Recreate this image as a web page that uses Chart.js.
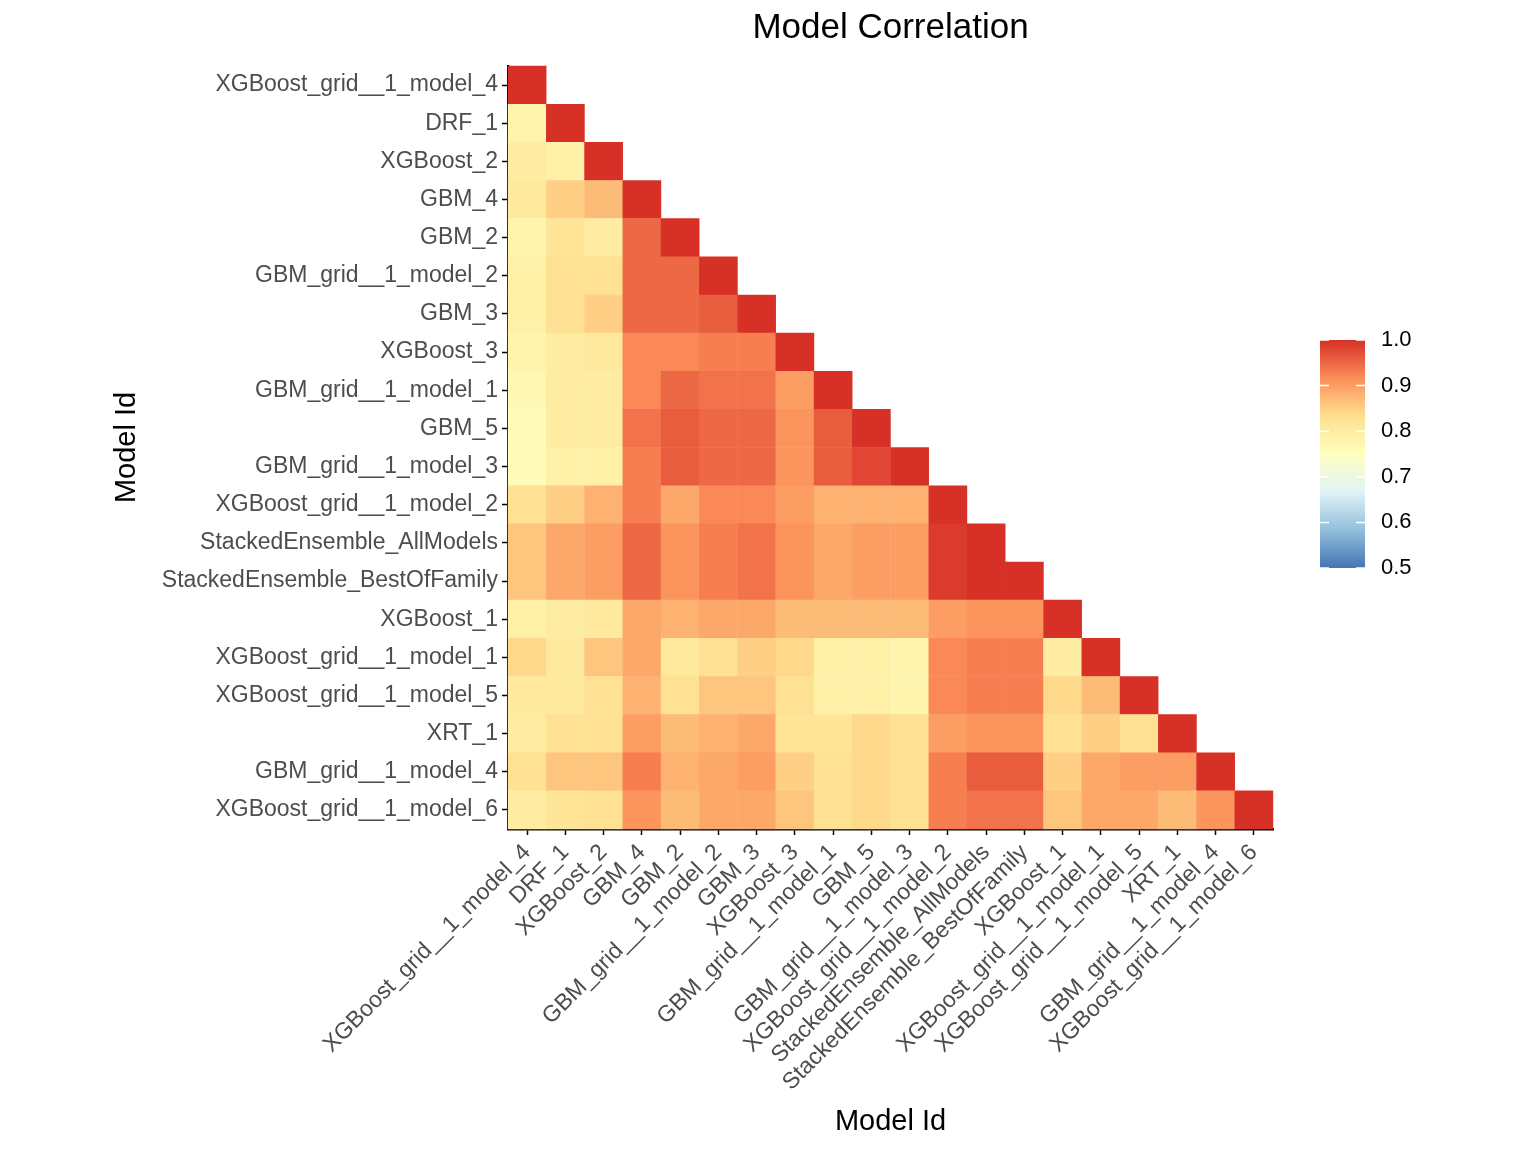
<!DOCTYPE html>
<html>
<head>
<meta charset="utf-8">
<script src="https://cdn.jsdelivr.net/npm/chart.js@4"></script>
<style>
  body { margin: 0; background: #fff; }
  #wrap { width: 1536px; height: 1152px; }
</style>
</head>
<body>
<div id="wrap"><canvas id="grafico"></canvas></div>
<script>
const modelos = ["XGBoost_grid__1_model_4", "DRF_1", "XGBoost_2", "GBM_4", "GBM_2",
  "GBM_grid__1_model_2", "GBM_3", "XGBoost_3", "GBM_grid__1_model_1", "GBM_5",
  "GBM_grid__1_model_3", "XGBoost_grid__1_model_2", "StackedEnsemble_AllModels",
  "StackedEnsemble_BestOfFamily", "XGBoost_1", "XGBoost_grid__1_model_1",
  "XGBoost_grid__1_model_5", "XRT_1", "GBM_grid__1_model_4", "XGBoost_grid__1_model_6"];

// lower triangle, row i has i values (diagonal = 1)
const correlacoes = [
  [],
  [0.78],
  [0.80, 0.79],
  [0.81, 0.85, 0.87],
  [0.78, 0.82, 0.80, 0.95],
  [0.79, 0.83, 0.83, 0.95, 0.95],
  [0.79, 0.83, 0.85, 0.95, 0.95, 0.96],
  [0.78, 0.80, 0.81, 0.92, 0.92, 0.93, 0.93],
  [0.77, 0.80, 0.80, 0.92, 0.95, 0.94, 0.94, 0.90],
  [0.76, 0.80, 0.80, 0.94, 0.96, 0.95, 0.95, 0.91, 0.96],
  [0.76, 0.79, 0.79, 0.93, 0.96, 0.95, 0.95, 0.91, 0.96, 0.98],
  [0.83, 0.85, 0.88, 0.93, 0.89, 0.92, 0.92, 0.90, 0.88, 0.88, 0.88],
  [0.86, 0.89, 0.90, 0.95, 0.91, 0.93, 0.94, 0.91, 0.89, 0.90, 0.90, 0.99],
  [0.86, 0.89, 0.90, 0.95, 0.91, 0.93, 0.94, 0.91, 0.89, 0.90, 0.90, 0.99, 1.00],
  [0.79, 0.80, 0.81, 0.89, 0.88, 0.89, 0.89, 0.87, 0.87, 0.87, 0.87, 0.90, 0.91, 0.91],
  [0.84, 0.81, 0.86, 0.89, 0.81, 0.83, 0.85, 0.84, 0.79, 0.79, 0.78, 0.92, 0.93, 0.93, 0.80],
  [0.81, 0.81, 0.83, 0.88, 0.83, 0.86, 0.86, 0.83, 0.79, 0.79, 0.78, 0.92, 0.93, 0.93, 0.84, 0.87],
  [0.80, 0.83, 0.83, 0.90, 0.87, 0.88, 0.89, 0.82, 0.82, 0.84, 0.83, 0.90, 0.91, 0.91, 0.83, 0.85, 0.83],
  [0.83, 0.86, 0.86, 0.93, 0.88, 0.89, 0.90, 0.85, 0.83, 0.84, 0.83, 0.93, 0.96, 0.96, 0.85, 0.89, 0.90, 0.90],
  [0.80, 0.82, 0.83, 0.91, 0.87, 0.89, 0.89, 0.86, 0.83, 0.84, 0.83, 0.93, 0.94, 0.94, 0.86, 0.89, 0.89, 0.87, 0.91]
];

const legendaTicks = [0.5, 0.6, 0.7, 0.8, 0.9, 1.0];
const paleta = ["#4575B4", "#91BFDB", "#E0F3F8", "#FFFFBF", "#FEE090", "#FC8D59", "#D73027"];
const vMin = 0.5, vMax = 1.0;

function corDe(v) {
  let t = (v - vMin) / (vMax - vMin);
  t = Math.max(0, Math.min(1, t)) * (paleta.length - 1);
  const i = Math.min(Math.floor(t), paleta.length - 2);
  const f = t - i;
  const a = hex(paleta[i]), b = hex(paleta[i + 1]);
  const c = a.map((x, k) => Math.round(x + (b[k] - x) * f));
  return `rgb(${c[0]},${c[1]},${c[2]})`;
}
function hex(h) {
  return [1, 3, 5].map(k => parseInt(h.substr(k, 2), 16));
}

const pontos = [];
correlacoes.forEach((linha, i) => {
  linha.forEach((v, j) => pontos.push({ x: modelos[j], y: modelos[i], v: v }));
  pontos.push({ x: modelos[i], y: modelos[i], v: 1 });
});

const fonte = "'Liberation Sans', Arial, sans-serif";

const extras = {
  id: "extras",
  afterDraw(chart) {
    const ctx = chart.ctx;
    const area = chart.chartArea;
    ctx.save();
    ctx.fillStyle = "#000";
    ctx.font = "35px " + fonte;
    ctx.textAlign = "center";
    ctx.textBaseline = "middle";
    ctx.fillText("Model Correlation", (area.left + area.right) / 2, 28);

    // barra de cores
    const x0 = 1320, w = 45, top = 340, bot = 568;
    const grad = ctx.createLinearGradient(0, bot, 0, top);
    paleta.forEach((c, k) => grad.addColorStop(k / (paleta.length - 1), c));
    ctx.fillStyle = grad;
    ctx.fillRect(x0, top, w, bot - top);
    ctx.font = "22px " + fonte;
    ctx.textAlign = "left";
    legendaTicks.forEach(t => {
      const y = bot - (t - vMin) / (vMax - vMin) * (bot - top);
      ctx.strokeStyle = "#fff";
      ctx.lineWidth = 1.5;
      ctx.beginPath();
      ctx.moveTo(x0, y); ctx.lineTo(x0 + 9, y);
      ctx.moveTo(x0 + w - 9, y); ctx.lineTo(x0 + w, y);
      ctx.stroke();
      ctx.fillStyle = "#000";
      ctx.fillText(t.toFixed(1), x0 + w + 16, y);
    });
    ctx.restore();
  }
};

const eixo = (titulo, pad) => ({
  type: "category",
  labels: modelos,
  offset: true,
  grid: { display: true, drawOnChartArea: false, color: "#000", tickLength: 6, tickWidth: 1.5, offset: false },
  border: { display: true, color: "#000", width: 2.5 },
  ticks: { color: "#4d4d4d", font: { size: 23, family: fonte }, autoSkip: false, padding: 4 },
  title: { display: true, text: titulo, color: "#000", font: { size: 29, family: fonte }, padding: pad }
});

const escalaX = eixo("Model Id", { top: 4, bottom: 13 });
escalaX.ticks.maxRotation = 45;
escalaX.ticks.minRotation = 45;
escalaX.afterFit = s => { s.height = 1152 - 829; };
const escalaY = eixo("Model Id", { top: 110, bottom: 4 });
escalaY.afterFit = s => { s.width = 508; };

new Chart(document.getElementById("grafico"), {
  type: "scatter",
  data: {
    datasets: [{
      data: pontos,
      pointStyle: "rect",
      pointBorderWidth: 0,
      borderWidth: 0,
      pointRadius: ctx => {
        const s = ctx.chart.scales.x;
        return (s.right - s.left) / modelos.length / 2 / Math.SQRT1_2 + 0.3;
      },
      pointHoverRadius: ctx => {
        const s = ctx.chart.scales.x;
        return (s.right - s.left) / modelos.length / 2 / Math.SQRT1_2 + 0.3;
      },
      backgroundColor: ctx => corDe(ctx.raw ? ctx.raw.v : 1),
      borderColor: ctx => corDe(ctx.raw ? ctx.raw.v : 1)
    }]
  },
  options: {
    responsive: true,
    maintainAspectRatio: false,
    animation: false,
    layout: { padding: { top: 66, right: 263, left: 0, bottom: 0 } },
    plugins: { legend: { display: false }, tooltip: { enabled: false } },
    scales: { x: escalaX, y: escalaY }
  },
  plugins: [extras]
});
</script>
</body>
</html>
